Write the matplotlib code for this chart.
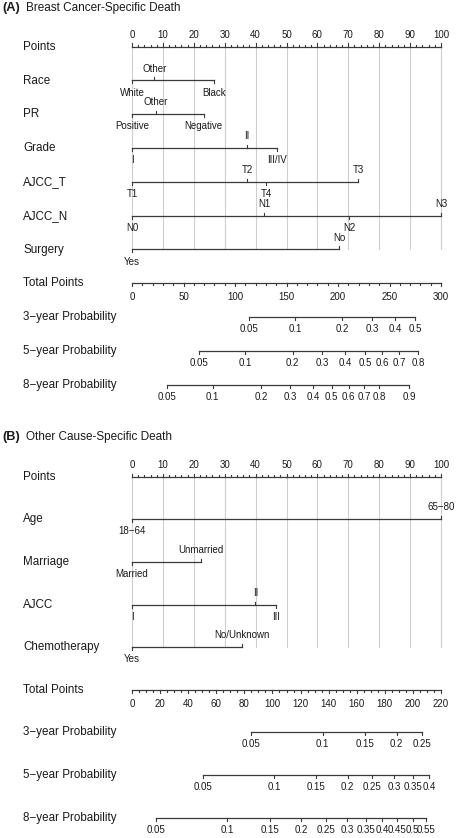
import numpy as np
import matplotlib
matplotlib.use('Agg')
import matplotlib.pyplot as plt

plt.rcParams['font.family'] = ['Liberation Sans', 'DejaVu Sans']

# ---- Panel A: breast cancer-specific death ----
a_race_levels = ['White', 'Other', 'Black']
a_race_pts = [0, 7.2, 26.4]
a_pr_levels = ['Positive', 'Other', 'Negative']
a_pr_pts = [0, 7.8, 23.2]
a_grade_levels = ['I', 'II', 'III/IV']
a_grade_pts = [0, 37.2, 46.8]
a_t_levels = ['T1', 'T2', 'T4', 'T3']
a_t_pts = [0, 37.2, 43.5, 73.2]
a_n_levels = ['N0', 'N1', 'N2', 'N3']
a_n_pts = [0, 42.8, 70.2, 100]
a_surg_levels = ['Yes', 'No']
a_surg_pts = [0, 67.1]

a_total_max = 300
a_prob_labels = ['0.05', '0.1', '0.2', '0.3', '0.4', '0.5', '0.6', '0.7', '0.8', '0.9']
a_prob3_total = [113.9, 158.3, 204.2, 233.3, 255.6, 274.8]
a_prob5_total = [65.0, 110.0, 156.0, 184.8, 207.1, 226.2, 243.0, 259.2, 278.0]
a_prob8_total = [33.7, 78.3, 125.2, 153.7, 175.7, 193.9, 210.4, 225.2, 240.1, 269.2]

# ---- Panel B: other cause-specific death ----
b_age_levels = ['18\u221264', '65\u221280']
b_age_pts = [0, 100]
b_mar_levels = ['Married', 'Unmarried']
b_mar_pts = [0, 22.3]
b_ajcc_levels = ['I', 'II', 'III']
b_ajcc_pts = [0, 39.9, 46.6]
b_chemo_levels = ['Yes', 'No/Unknown']
b_chemo_pts = [0, 35.6]

b_total_max = 220
b_prob_labels = ['0.05', '0.1', '0.15', '0.2', '0.25', '0.3', '0.35', '0.4', '0.45', '0.5', '0.55']
b_prob3_total = [84.9, 135.8, 166.1, 188.5, 206.5]
b_prob5_total = [50.5, 101.1, 131.2, 153.6, 171.1, 186.5, 199.9, 211.5]
b_prob8_total = [17.3, 67.9, 98.0, 120.3, 137.9, 153.3, 166.6, 178.2, 188.7, 199.8, 209.3]

W, H = 457, 838
x0_px, x100_px = 132, 441
ppp = (x100_px - x0_px) / 100.0

LINE = '#3a3a3a'
GRID = '#cfcfcf'
TXT = '#1a1a1a'
FS_ROW = 8.4
FS_TICK = 7
FS_LEV = 7

fig = plt.figure(figsize=(W / 100, H / 100), dpi=100)
ax = fig.add_axes([0, 0, 1, 1])
ax.set_xlim(-x0_px / ppp, (W - x0_px) / ppp)
ax.set_ylim(H, 0)
ax.axis('off')
ytr = ax.get_yaxis_transform()


def row_label(y, s):
    ax.text(23 / W, y, s, transform=ytr, ha='left', va='center',
            fontsize=FS_ROW, color=TXT)


def draw_panel(letter, title, title_y, y0, step, variables, total_max,
               total_minor, total_major, probs):
    ax.text(2.5 / W, title_y, letter, transform=ytr, ha='left', va='center',
            fontsize=9.2, fontweight='bold', color=TXT)
    ax.text(26 / W, title_y, title, transform=ytr, ha='left', va='center',
            fontsize=8.5, color=TXT)

    # Points axis
    row_label(y0, 'Points')
    y_last = y0 + len(variables) * step
    for v in range(0, 101, 10):
        ax.plot([v, v], [y0, y_last], color=GRID, lw=0.8, zorder=1)
    ax.plot([0, 100], [y0, y0], color=LINE, lw=0.9, zorder=2)
    for v in range(0, 101, 2):
        tl = 3.2 if v % 10 == 0 else 1.8
        ax.plot([v, v], [y0, y0 - tl], color=LINE, lw=0.8, zorder=2)
        if v % 10 == 0:
            ax.text(v, y0 - 12, str(v), ha='center', va='center',
                    fontsize=FS_TICK, color=TXT)

    # predictor rows
    for i, (name, levels, pts) in enumerate(variables, start=1):
        y = y0 + i * step
        row_label(y, name)
        ax.plot([min(pts), max(pts)], [y, y], color=LINE, lw=0.9, zorder=2)
        order = np.argsort(pts, kind='stable')
        for k, j in enumerate(order):
            sgn = 1 if k % 2 == 0 else -1
            ax.plot([pts[j], pts[j]], [y, y + sgn * 3], color=LINE, lw=0.8,
                    zorder=2)
            ax.text(pts[j], y + sgn * 12, levels[j], ha='center',
                    va='center', fontsize=FS_LEV, color=TXT)

    # total points axis
    yt = y0 + (len(variables) + 1) * step
    row_label(yt, 'Total Points')
    sc = 100.0 / total_max
    ax.plot([0, 100], [yt, yt], color=LINE, lw=0.9)
    for v in range(0, total_max + 1, total_minor):
        tl = 3.2 if v % total_major == 0 else 1.8
        ax.plot([v * sc, v * sc], [yt, yt + tl], color=LINE, lw=0.8)
        if v % total_major == 0:
            ax.text(v * sc, yt + 14, str(v), ha='center', va='center',
                    fontsize=FS_TICK, color=TXT)

    # probability axes
    for k, (name, labels, tot) in enumerate(probs):
        yp = y0 + (len(variables) + 2 + k) * step
        row_label(yp, name)
        xs = [t * sc for t in tot]
        ax.plot([xs[0], xs[-1]], [yp, yp], color=LINE, lw=0.9)
        for xv, lab in zip(xs, labels):
            ax.plot([xv, xv], [yp, yp + 3], color=LINE, lw=0.8)
            ax.text(xv, yp + 12, lab, ha='center', va='center',
                    fontsize=FS_TICK, color=TXT)


vars_a = [
    ('Race', a_race_levels, a_race_pts),
    ('PR', a_pr_levels, a_pr_pts),
    ('Grade', a_grade_levels, a_grade_pts),
    ('AJCC_T', a_t_levels, a_t_pts),
    ('AJCC_N', a_n_levels, a_n_pts),
    ('Surgery', a_surg_levels, a_surg_pts),
]
probs_a = [
    ('3\u2212year Probability', a_prob_labels, a_prob3_total),
    ('5\u2212year Probability', a_prob_labels, a_prob5_total),
    ('8\u2212year Probability', a_prob_labels, a_prob8_total),
]
draw_panel('(A)', 'Breast Cancer-Specific Death', 8.5, 46.7, 33.8, vars_a,
           a_total_max, 10, 50, probs_a)

vars_b = [
    ('Age', b_age_levels, b_age_pts),
    ('Marriage', b_mar_levels, b_mar_pts),
    ('AJCC', b_ajcc_levels, b_ajcc_pts),
    ('Chemotherapy', b_chemo_levels, b_chemo_pts),
]
probs_b = [
    ('3\u2212year Probability', b_prob_labels, b_prob3_total),
    ('5\u2212year Probability', b_prob_labels, b_prob5_total),
    ('8\u2212year Probability', b_prob_labels, b_prob8_total),
]
draw_panel('(B)', 'Other Cause-Specific Death', 437, 476.7, 42.6, vars_b,
           b_total_max, 5, 20, probs_b)

plt.savefig('out.png', dpi=100)
